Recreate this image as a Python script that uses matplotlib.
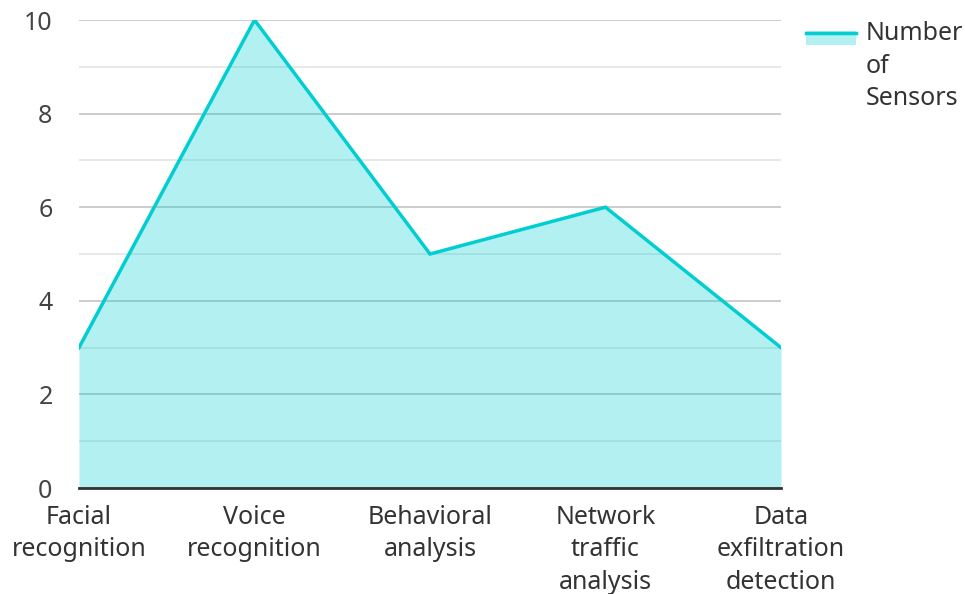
import matplotlib
matplotlib.use("Agg")
import matplotlib.pyplot as plt
from matplotlib.patches import Rectangle
from matplotlib.lines import Line2D

categories = ["Facial\nrecognition", "Voice\nrecognition", "Behavioral\nanalysis",
              "Network\ntraffic\nanalysis", "Data\nexfiltration\ndetection"]
values = [3, 10, 5, 6, 3]
series_name = "Number\nof\nSensors"
yticks = [0, 2, 4, 6, 8, 10]

LINE = "#00CED1"
TEXT = "#333333"
W, H = 965, 594

plt.rcParams['font.family'] = ['Noto Sans', 'Open Sans', 'DejaVu Sans']

fig = plt.figure(figsize=(W/100, H/100), dpi=100)
ax = fig.add_axes([79/W, 1 - 488/H, (781-79)/W, (488-20)/H])

x = list(range(len(values)))
ax.fill_between(x, values, 0, color=LINE, alpha=0.3, linewidth=0, zorder=2)
ax.plot(x, values, color=LINE, linewidth=2.5, zorder=3, solid_joinstyle='miter')

ax.set_xlim(0, len(values) - 1)
ax.set_ylim(0, 10)
ax.set_yticks(yticks)
ax.set_yticks([1, 3, 5, 7, 9], minor=True)
ax.grid(axis='y', which='major', color='#c8c8c8', linewidth=1.3, zorder=0)
ax.grid(axis='y', which='minor', color='#e6e6e6', linewidth=1.3, zorder=0)
ax.set_axisbelow(True)
ax.set_xticks(x)
ax.set_xticklabels(categories, fontsize=18, color=TEXT, linespacing=1.40)
ax.tick_params(axis='x', length=0, pad=12)
ax.tick_params(axis='y', which='both', length=0, pad=19, labelsize=18, labelcolor='#444444')
for s in ['top', 'right', 'left']:
    ax.spines[s].set_visible(False)
ax.spines['bottom'].set_color(TEXT)
ax.spines['bottom'].set_linewidth(2)
ax.spines['bottom'].set_zorder(4)

# legend (drawn manually in figure pixel positions)
tf = fig.transFigure
fig.add_artist(Rectangle((806/W, 1 - 45/H), 50/W, 14/H, facecolor=LINE, alpha=0.3,
                         linewidth=0, transform=tf))
fig.add_artist(Line2D([806/W, 856/W], [1 - 32.5/H, 1 - 32.5/H], color=LINE,
                      linewidth=2.5, transform=tf))
fig.text(866/W, 1 - 21/H, series_name, fontsize=18, color=TEXT, ha='left', va='top',
         linespacing=1.40)

fig.savefig("out.png", dpi=100)
